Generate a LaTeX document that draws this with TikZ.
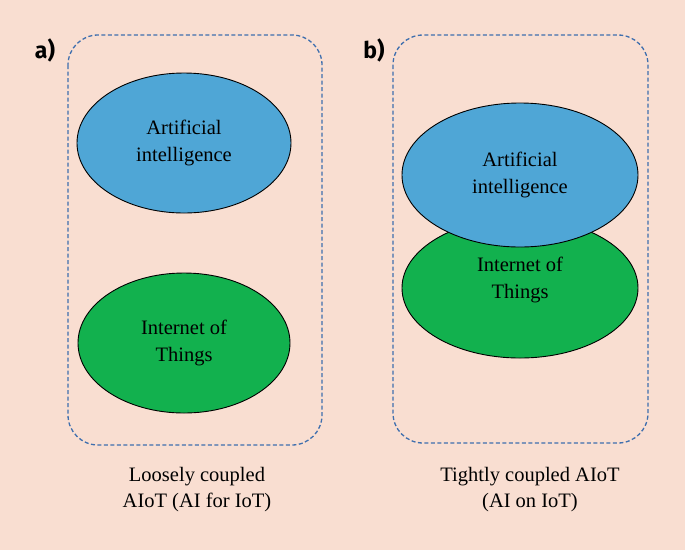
\documentclass[tikz,border=0pt]{standalone}
\usepackage{fontspec}
\setmainfont{Liberation Serif}
\newfontfamily\labfont{Fira Sans}
\usetikzlibrary{shapes.geometric}
\definecolor{bg}{HTML}{F9DED1}
\definecolor{aiblue}{HTML}{4FA6D6}
\definecolor{iotgreen}{HTML}{12B14E}
\definecolor{dashblue}{HTML}{3F6FAE}
\tikzset{
  box/.style={draw=dashblue,dash pattern=on 4pt off 2.5pt,line width=1.3pt,rounded corners=30pt},
  ell/.style={ellipse,draw=black,line width=0.9pt,align=center,font=\fontsize{20.5}{27}\selectfont},
  captext/.style={align=center,font=\fontsize{20.5}{26}\selectfont},
  lab/.style={font=\labfont\bfseries\fontsize{23}{26}\selectfont}
}
\begin{document}
\begin{tikzpicture}[x=1pt,y=-1pt]
\fill[bg] (0,0) rectangle (685,550);
\useasboundingbox (0,0) rectangle (685,550);
\draw[box] (68,35) rectangle (322,445);
\draw[box] (393,35) rectangle (648,443);
\node[ell,fill=aiblue,minimum width=214pt,minimum height=140pt] (ai1) at (184,143) {Artificial\\intelligence};
\node[ell,fill=iotgreen,minimum width=212pt,minimum height=140pt] (iot1) at (184,343) {Internet of\\Things};
\node[ell,fill=iotgreen,minimum width=236pt,minimum height=140pt,text depth=20pt] (iot2) at (520,288) {Internet of\\Things};
\node[ell,fill=aiblue,minimum width=236pt,minimum height=144pt] (ai2) at (520,175) {Artificial\\intelligence};
\node[lab] (la) at (45,50) {a)};
\node[lab] (lb) at (374,50) {b)};
\node[captext] (c1) at (197,490) {Loosely coupled\\AIoT (AI for IoT)};
\node[captext] (c2) at (530,490) {Tightly coupled AIoT\\(AI on IoT)};
\end{tikzpicture}
\end{document}
